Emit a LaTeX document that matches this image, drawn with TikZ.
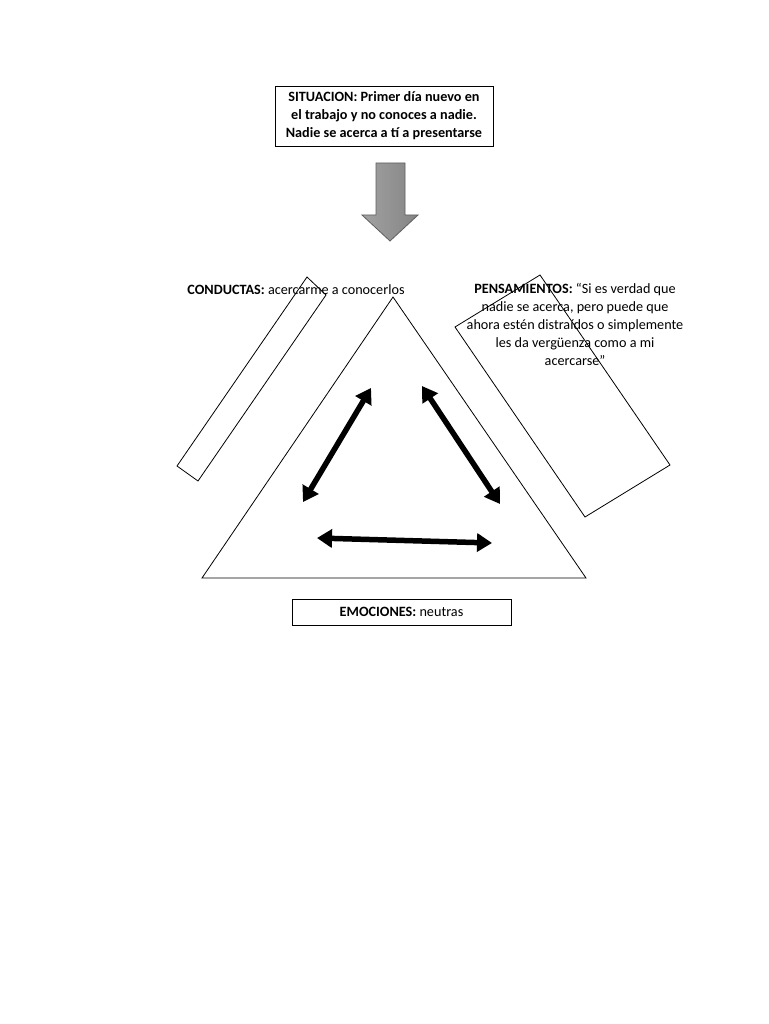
\documentclass[tikz,border=0pt]{standalone}
\usepackage{fontspec}
\setmainfont{Carlito}
\usetikzlibrary{arrows.meta}
\definecolor{arrL}{RGB}{162,162,162}
\definecolor{arrR}{RGB}{132,132,132}
\definecolor{arrB}{RGB}{95,95,95}
\begin{document}
\begin{tikzpicture}[x=1pt,y=-1pt,
  txt/.style={font=\fontsize{14.2}{18}\selectfont, align=center, inner sep=0pt},
  box/.style={draw=black, line width=0.9},
  thin/.style={draw=black, line width=0.8},
  dbl/.style={line width=5.5, {Triangle[length=15,width=18]}-{Triangle[length=15,width=18]}}]
\useasboundingbox[fill=white] (0,0) rectangle (768,1024);
% top box
\draw[box] (275,86) rectangle (493,146);
\node[txt, font=\fontsize{14.2}{18}\selectfont\bfseries] (sit) at (384,116) {SITUACION: Primer día nuevo en\\el trabajo y no conoces a nadie.\\Nadie se acerca a tí a presentarse};
% gray arrow
\draw[draw=arrB, line width=0.8, left color=arrL, right color=arrR]
  (376,163) -- (405,163) -- (405,215) -- (418,215) -- (390,241) -- (362,215) -- (376,215) -- cycle;
% texts
\node[txt] (cond) at (296,289.5) {\textbf{CONDUCTAS:} acercarme a conocerlos};
\node[txt] (pens) at (575,324) {\textbf{PENSAMIENTOS:} “Si es verdad que\\nadie se acerca, pero puede que\\ahora estén distraídos o simplemente\\les da vergüenza como a mi\\acercarse”};
% rectangles
\draw[thin] (307,277) -- (326,295) -- (198,481) -- (177,466) -- cycle;
\draw[thin] (540,275) -- (670,465) -- (585,517) -- (455,327) -- cycle;
% triangle
\coordinate (A) at (393,297);
\coordinate (B) at (202,578);
\coordinate (C) at (586,578);
\draw[thin] (A) -- (B) -- (C) -- cycle;
% double arrows
\coordinate (l1) at (303,502); \coordinate (l2) at (371,388);
\coordinate (r1) at (422,386); \coordinate (r2) at (500,504);
\coordinate (b1) at (317,538); \coordinate (b2) at (492,543);
\draw[dbl] (l1) -- (l2);
\draw[dbl] (r1) -- (r2);
\draw[dbl] (b1) -- (b2);
% emociones
\draw[box] (292,599) rectangle (511,625);
\node[txt] (emo) at (401.5,612) {\textbf{EMOCIONES:} neutras};
\end{tikzpicture}
\end{document}
